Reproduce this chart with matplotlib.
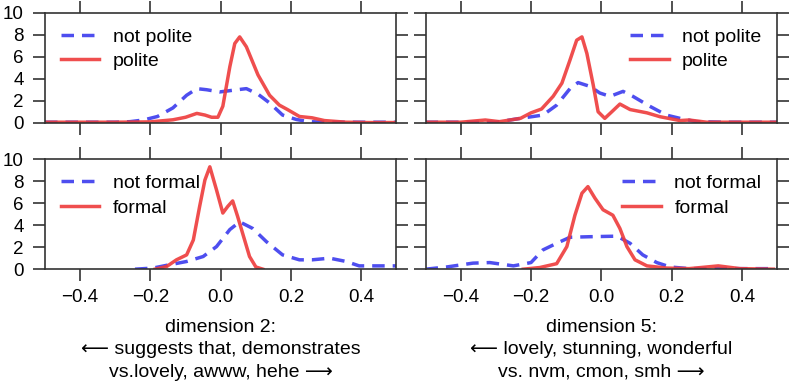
import numpy as np
import matplotlib.pyplot as plt

plt.rcParams['font.family'] = ['Liberation Sans', 'DejaVu Sans']

# top left: dimension 2, politeness
x_tl_pol = [-0.5, -0.3, -0.2, -0.136, -0.1, -0.068, -0.045, -0.026, -0.008, 0.006, 0.026, 0.04, 0.054,
            0.073, 0.106, 0.139, 0.167, 0.19, 0.224, 0.26, 0.295, 0.357, 0.42, 0.5]
y_tl_pol = [0.05, 0.05, 0.08, 0.27, 0.5, 0.85, 0.7, 0.5, 0.5, 1.5, 5.1, 7.2, 7.8,
            6.9, 4.35, 2.5, 1.6, 1.2, 0.57, 0.45, 0.2, 0.05, 0.02, 0.02]
x_tl_not = [-0.5, -0.3, -0.258, -0.22, -0.18, -0.136, -0.097, -0.068, -0.04, -0.003, 0.034, 0.073,
            0.106, 0.139, 0.176, 0.215, 0.25, 0.3, 0.4, 0.5]
y_tl_not = [0.05, 0.05, 0.1, 0.25, 0.57, 1.35, 2.5, 3.1, 3.0, 2.8, 2.95, 3.1,
            2.6, 1.8, 0.7, 0.3, 0.1, 0.05, 0.05, 0.05]

# top right: dimension 5, politeness
x_tr_pol = [-0.5, -0.4, -0.33, -0.29, -0.23, -0.2, -0.17, -0.137, -0.112, -0.089, -0.07, -0.055,
            -0.041, -0.023, -0.009, 0.01, 0.03, 0.053, 0.082, 0.13, 0.167, 0.224, 0.25, 0.3, 0.4, 0.5]
y_tr_pol = [0.05, 0.05, 0.25, 0.1, 0.4, 0.9, 1.25, 2.4, 3.6, 5.7, 7.5, 7.8,
            6.3, 3.45, 1.0, 0.4, 1.0, 1.7, 1.2, 0.9, 0.55, 0.2, 0.25, 0.05, 0.05, 0.05]
x_tr_not = [-0.5, -0.3, -0.23, -0.166, -0.127, -0.089, -0.066, -0.032, -0.004, 0.025, 0.062, 0.09,
            0.138, 0.185, 0.224, 0.27, 0.35, 0.5]
y_tr_not = [0.05, 0.05, 0.4, 0.7, 1.6, 3.1, 3.65, 3.3, 2.7, 2.4, 2.85, 2.4,
            1.5, 0.7, 0.4, 0.1, 0.05, 0.05]

# bottom left: dimension 2, formality
x_bl_for = [-0.187, -0.154, -0.126, -0.097, -0.078, -0.06, -0.045, -0.031, -0.012, 0.006, 0.02,
            0.034, 0.048, 0.068, 0.082, 0.1, 0.12]
y_bl_for = [0.0, 0.24, 0.85, 1.3, 2.65, 5.7, 8.1, 9.3, 7.2, 5.1, 5.7,
            6.2, 4.8, 2.65, 1.15, 0.2, 0.0]
x_bl_not = [-0.244, -0.193, -0.154, -0.097, -0.05, -0.012, 0.026, 0.054, 0.091, 0.13, 0.176, 0.224,
            0.26, 0.31, 0.357, 0.394, 0.43, 0.5]
y_bl_not = [0.0, 0.1, 0.35, 0.7, 1.15, 2.05, 3.6, 4.3, 3.7, 2.5, 1.3, 0.85,
            0.85, 1.0, 0.7, 0.3, 0.3, 0.3]

# bottom right: dimension 5, formality
x_br_for = [-0.222, -0.175, -0.127, -0.098, -0.075, -0.055, -0.038, -0.018, 0.005, 0.033, 0.053,
            0.073, 0.096, 0.13, 0.186, 0.25, 0.333, 0.395, 0.49]
y_br_for = [0.0, 0.15, 0.5, 2.05, 4.9, 6.9, 7.5, 6.45, 5.4, 4.9, 3.7,
            2.05, 0.85, 0.3, 0.1, 0.05, 0.3, 0.05, 0.0]
x_br_not = [-0.5, -0.44, -0.365, -0.317, -0.25, -0.2, -0.166, -0.127, -0.089, -0.032, 0.045, 0.082,
            0.118, 0.158, 0.196, 0.25, 0.35, 0.5]
y_br_not = [0.0, 0.2, 0.55, 0.6, 0.3, 0.6, 1.75, 2.35, 2.9, 2.95, 3.0, 2.35,
            1.3, 0.6, 0.2, 0.05, 0.05, 0.05]

blue = '#3b3bee'
red = '#ee3b3b'
xlabels = ['dimension 2:\n\u27f5 suggests that, demonstrates\nvs.lovely, awww, hehe \u27f6',
           'dimension 5:\n\u27f5 lovely, stunning, wonderful\nvs. nvm, cmon, smh \u27f6']

fig, axes = plt.subplots(2, 2, figsize=(7.9, 3.84), dpi=100, sharex=True, sharey=True)
fig.subplots_adjust(left=0.057, right=0.9835, top=0.967, bottom=0.299, hspace=0.33, wspace=0.083)

panels = [
    (axes[0, 0], x_tl_not, y_tl_not, x_tl_pol, y_tl_pol, 'not polite', 'polite', 'upper left'),
    (axes[0, 1], x_tr_not, y_tr_not, x_tr_pol, y_tr_pol, 'not polite', 'polite', 'upper right'),
    (axes[1, 0], x_bl_not, y_bl_not, x_bl_for, y_bl_for, 'not formal', 'formal', 'upper left'),
    (axes[1, 1], x_br_not, y_br_not, x_br_for, y_br_for, 'not formal', 'formal', 'upper right'),
]
for ax, xn, yn, xp, yp, ln, lp, loc in panels:
    ax.plot(xn, yn, '--', color=blue, lw=2.5, dashes=(3.6, 2.3), alpha=0.9, label=ln)
    ax.plot(xp, yp, '-', color=red, lw=2.5, alpha=0.9, label=lp)
    ax.legend(loc=loc, frameon=False, fontsize=14, handlelength=2.0,
              labelspacing=0.35, handletextpad=0.7, borderaxespad=0.4)
    for s in ax.spines.values():
        s.set_color('#333333')
        s.set_linewidth(1.2)
    ax.tick_params(direction='out', length=8.5, width=1.2, color='#333333',
                   top=True, right=True, labelsize=13.5)
    ax.tick_params(axis='x', pad=6)
    ax.tick_params(axis='y', pad=7)

axes[0, 0].set_xlim(-0.5, 0.5)
axes[0, 0].set_ylim(0, 10)
axes[0, 0].set_xticks([-0.4, -0.2, 0.0, 0.2, 0.4])
axes[0, 0].set_yticks([0, 2, 4, 6, 8, 10])
axes[1, 0].set_xlabel(xlabels[0], fontsize=14, linespacing=1.42, labelpad=9)
axes[1, 1].set_xlabel(xlabels[1], fontsize=14, linespacing=1.42, labelpad=9)

fig.savefig('out.png', dpi=100)
